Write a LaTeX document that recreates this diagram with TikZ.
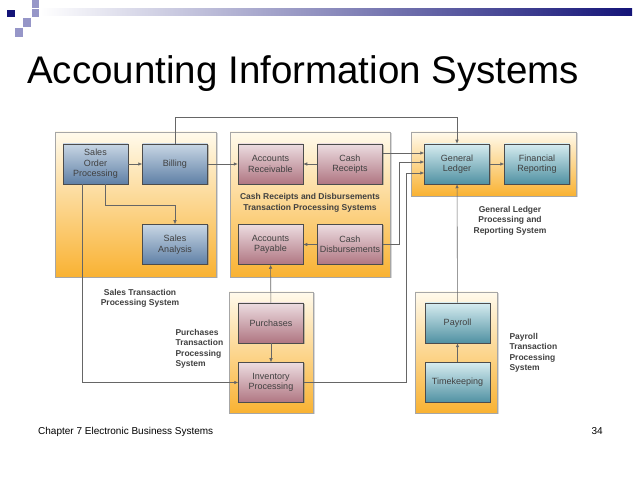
\documentclass[tikz,border=0pt]{standalone}
\usepackage{fontspec}
\setmainfont{Liberation Sans}
\usetikzlibrary{arrows.meta,shadows}
\definecolor{bTop}{RGB}{200,214,228}
\definecolor{bBot}{RGB}{95,128,166}
\definecolor{rTop}{RGB}{236,220,224}
\definecolor{rBot}{RGB}{176,118,130}
\definecolor{tTop}{RGB}{214,236,240}
\definecolor{tBot}{RGB}{80,145,162}
\definecolor{pTop}{RGB}{255,250,236}
\definecolor{pBot}{RGB}{249,178,50}
\definecolor{navy}{RGB}{20,20,120}
\definecolor{sq}{RGB}{150,150,200}
\begin{document}
\begin{tikzpicture}[x=1pt,y=-1pt,
  panel/.style={draw=gray!70,line width=0.6pt,top color=pTop,bottom color=pBot,drop shadow={shadow xshift=1.5pt,shadow yshift=-1.5pt,fill=gray!60}},
  box/.style={draw=black!70,line width=0.5pt,minimum width=65pt,minimum height=40pt,align=center,font=\fontsize{9}{10.5}\selectfont,text=black!75,inner sep=1pt,drop shadow={shadow xshift=1pt,shadow yshift=-1pt,fill=black!50}},
  bluebox/.style={box,top color=bTop,bottom color=bBot},
  redbox/.style={box,top color=rTop,bottom color=rBot},
  tealbox/.style={box,top color=tTop,bottom color=tBot},
  lbl/.style={font=\bfseries\fontsize{8.5}{10.5}\selectfont,text=black!75,align=center},
  conn/.style={draw=black!60,line width=0.6pt},
  arr/.style={conn,-{Latex[length=4pt,width=3.5pt]}}]
\useasboundingbox (0,0) rectangle (638,478);
% banner
\shade[left color=white,right color=navy] (40,9) rectangle (632,16);
\fill[navy] (7,10) rectangle (15,17);
\fill[sq] (32,0) rectangle (39,8);
\fill[sq] (32,9) rectangle (39,17);
\fill[sq] (23,18) rectangle (31,27);
\fill[sq] (15,28) rectangle (23,37);
\node[anchor=base west,font=\fontsize{38.5}{44}\selectfont,inner sep=0] (title) at (27,84) {Accounting Information Systems};
\node[anchor=base west,font=\fontsize{10}{12}\selectfont,inner sep=0] (foot) at (38,435) {Chapter 7 Electronic Business Systems};
\node[anchor=base east,font=\fontsize{10}{12}\selectfont,inner sep=0] (pg) at (603,435) {34};
% panels
\path[panel] (55,132) rectangle (216,277);
\path[panel] (230,132) rectangle (390,277);
\path[panel] (411,132) rectangle (576,196);
\path[panel] (229,292) rectangle (313,413);
\path[panel] (415,292) rectangle (497,413);
% nodes
\node[bluebox] (sop) at (95.5,164) {Sales\\Order\\Processing};
\node[bluebox] (bill) at (175,164) {Billing};
\node[bluebox] (sa) at (175,244.5) {Sales\\Analysis};
\node[redbox] (ar) at (270.5,164) {Accounts\\Receivable};
\node[redbox] (cr) at (350,164) {Cash\\Receipts};
\node[redbox] (ap) at (270.5,244.5) {Accounts\\Payable};
\node[redbox] (cd) at (350,244.5) {Cash\\Disbursements};
\node[tealbox] (gl) at (457,164) {General\\Ledger};
\node[tealbox] (fr) at (537,164) {Financial\\Reporting};
\node[redbox] (pur) at (271,323) {Purchases};
\node[redbox] (inv) at (271,382.5) {Inventory\\Processing};
\node[tealbox] (pay) at (457.5,323) {Payroll};
\node[tealbox] (tk) at (457.5,382.5) {Timekeeping};
% labels
\node[lbl] (l1) at (310,203) {Cash Receipts and Disbursements\\Transaction Processing Systems};
\node[lbl] (l2) at (140,298.5) {Sales Transaction\\Processing System};
\node[lbl,align=left,anchor=west] (l3) at (172,349) {Purchases\\Transaction\\Processing\\System};
\node[lbl,align=left,anchor=west] (l4) at (506,353) {Payroll\\Transaction\\Processing\\System};
\node[lbl] (l5) at (510,220.5) {General Ledger\\Processing and\\Reporting System};
% connectors
\draw[arr] (sop) -- (bill);
\draw[arr] (bill.east) -- (ar.west);
\draw[arr] (cr) -- (ar);
\draw[arr] (cd) -- (ap);
\draw[arr] (pur) -- (ap);
\draw[arr] (pur) -- (inv);
\draw[arr] (tk) -- (pay);
\draw[arr] (pay) -- (gl);
\draw[arr] (gl) -- (fr);
\draw[arr] (sop.south) ++(10,0) |- (175,205) -- (sa.north);
\draw[arr] (bill.north) |- (457,117) -- (gl.north);
\draw[arr] (sop.south) ++(-13,0) |- (inv.west);
\draw[arr] (cr.east |- 0,153) -- (gl.west |- 0,153);
\draw[arr] (cd.east) -| (399,162) -- (gl.west |- 0,162);
\draw[arr] (inv.east) -| (406,173) -- (gl.west |- 0,173);
\end{tikzpicture}
\end{document}
